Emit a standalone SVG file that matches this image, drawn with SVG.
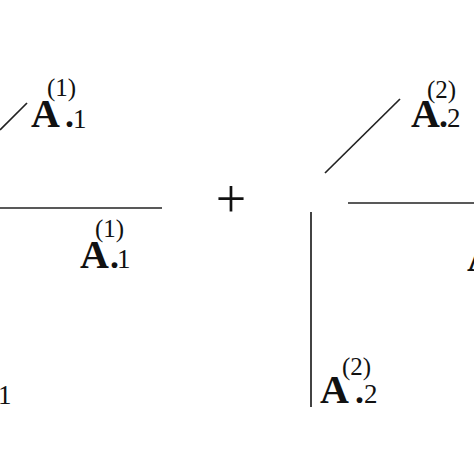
<svg xmlns="http://www.w3.org/2000/svg" width="474" height="474" viewBox="0 0 474 474">
<style>
.ln{stroke:#222;stroke-width:1.7;fill:none}
.big{font-family:"Liberation Serif","Times New Roman",serif;font-weight:bold;font-size:40px;fill:#111}
.dot{font-family:"Liberation Serif","Times New Roman",serif;font-weight:bold;font-size:36px;fill:#111}
.sub{font-family:"Liberation Serif","Times New Roman",serif;font-size:27px;fill:#111}
.sup{font-family:"Liberation Serif","Times New Roman",serif;font-size:25px;fill:#111}
.op{font-family:"Liberation Serif","Times New Roman",serif;font-size:54px;fill:#111}
</style>
<rect width="474" height="474" fill="#fff"/>
<g id="connectors">
<line class="ln" x1="0" y1="130" x2="27" y2="103"/>
<line class="ln" x1="0" y1="208" x2="162" y2="208"/>
<line class="ln" x1="325" y1="173" x2="400" y2="99"/>
<line class="ln" x1="348" y1="203" x2="474" y2="203"/>
<line class="ln" x1="311" y1="212" x2="311" y2="407"/>
</g>
<g id="label-a1-top">
<text class="big" x="31" y="127">A</text>
<text class="dot" x="65" y="127">.</text>
<text class="sub" x="73" y="128">1</text>
<text class="sup" x="47" y="96">(1)</text>
</g>
<g id="label-a1-mid">
<text class="big" x="80" y="268">A</text>
<text class="dot" x="110" y="268">.</text>
<text class="sub" x="117" y="268">1</text>
<text class="sup" x="95" y="237">(1)</text>
</g>
<g id="label-a1-bottom">
<text class="sub" x="-2" y="404">1</text>
</g>
<g id="label-plus">
<text class="op" x="231" y="217" text-anchor="middle">+</text>
</g>
<g id="label-a2-top">
<text class="big" x="411" y="127">A</text>
<text class="dot" x="439" y="127">.</text>
<text class="sub" x="447" y="127">2</text>
<text class="sup" x="427" y="98">(2)</text>
</g>
<g id="label-a2-right">
<text class="big" x="467" y="271">A</text>
</g>
<g id="label-a2-bottom">
<text class="big" x="320" y="403">A</text>
<text class="dot" x="355" y="403">.</text>
<text class="sub" x="364" y="403">2</text>
<text class="sup" x="342" y="375">(2)</text>
</g>
</svg>
